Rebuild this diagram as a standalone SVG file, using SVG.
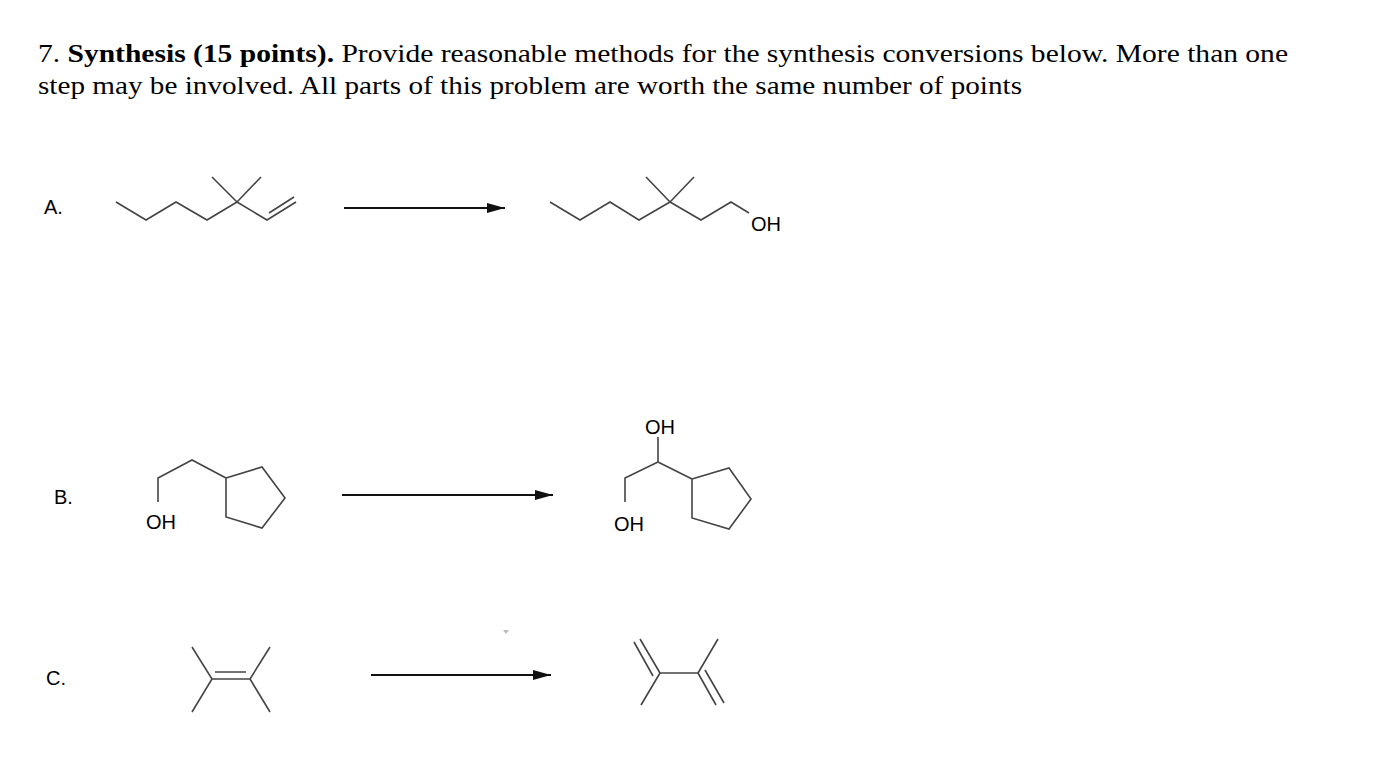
<svg xmlns="http://www.w3.org/2000/svg" width="1378" height="770" viewBox="0 0 1378 770">
<style>
.h{font-family:"Liberation Serif",serif;font-size:26px;fill:#000}
.l{font-family:"Liberation Sans",Arial,sans-serif;font-size:20px;fill:#000}
.b{fill:none;stroke:#444;stroke-width:1.6;stroke-linejoin:miter}
.a{stroke:#111;stroke-width:2}
</style>
<defs><marker id="ah" markerWidth="18" markerHeight="10" refX="18" refY="5" orient="auto" markerUnits="userSpaceOnUse"><path d="M0,0 L18,5 L0,10 Z" fill="#111"/></marker></defs>
<rect width="1378" height="770" fill="#fff"/>
<text class="h" x="38" y="62" textLength="1250" lengthAdjust="spacingAndGlyphs">7. <tspan font-weight="bold">Synthesis (15 points).</tspan> Provide reasonable methods for the synthesis conversions below.  More than one</text>
<text class="h" x="38" y="94" textLength="984" lengthAdjust="spacingAndGlyphs">step may be involved.  All parts of this problem are worth the same number of points</text>
<text class="l" x="44" y="214">A.</text>
<text class="l" x="54" y="504">B.</text>
<text class="l" x="46" y="685">C.</text>
<g id="A-start"><path class="b" d="M116,202 L146,220 L176,202 L207,220 L237,202 L267,220 L296,202 M237,202 L212,177 M237,202 L261,177 M269,213 L294,197"/></g>
<g id="A-product"><path class="b" d="M550,202 L580,220 L610,202 L639,220 L670,202 L701,220 L731,202 L749,213 M670,202 L646,177 M670,202 L694,177"/><text class="l" x="751" y="231">OH</text></g>
<g id="B-start"><path class="b" d="M158,502 L158,478 L192,460 L226,478 M226,478 L262,467 L285,498 L262,528 L226,517 Z"/><text class="l" x="146" y="529">OH</text></g>
<g id="B-product"><path class="b" d="M658,437 L658,462 L625,478 L625,502 M658,462 L692,479 M692,479 L729,468 L751,499 L729,529 L692,518 Z"/><text class="l" x="645" y="434">OH</text><text class="l" x="614" y="531">OH</text></g>
<g id="C-start"><path class="b" d="M192,647 L212,679 L192,712 M270,647 L250,679 L270,712 M212,679 L250,679 M215,672 L246,672"/></g>
<g id="C-product"><path class="b" d="M660,673 L698,673 M660,673 L641,705 M660,673 L640,639 M653,676 L634,642 M698,673 L718,639 M698,673 L716,705 M705,670 L724,703"/></g>
<g id="connectors">
<line class="a" x1="344" y1="208" x2="505" y2="208" marker-end="url(#ah)"/>
<line class="a" x1="342" y1="495" x2="553" y2="495" marker-end="url(#ah)"/>
<line class="a" x1="371" y1="675" x2="551" y2="675" marker-end="url(#ah)"/>
</g>
<path d="M503,630 L509,630 L506,634 Z" fill="#bbb"/>
</svg>
